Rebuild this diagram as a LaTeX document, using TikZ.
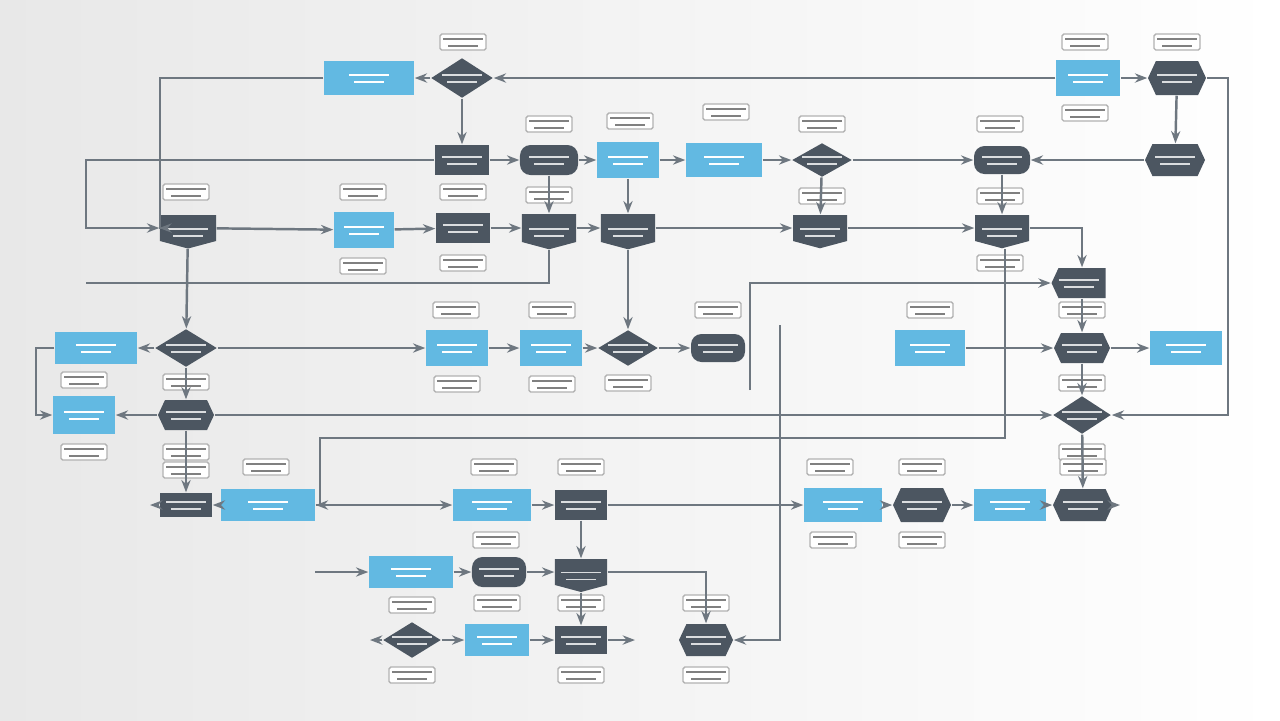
\documentclass[tikz,border=0pt]{standalone}
\usetikzlibrary{shapes.geometric,shapes.misc,shapes.symbols,arrows.meta}
\definecolor{boxblue}{HTML}{62B9E2}
\definecolor{boxdark}{HTML}{4C5661}
\definecolor{linegray}{HTML}{6E7780}
\tikzset{
  scrib/.style={path picture={
    \draw[#1,line width=0.5pt] ([xshift=-0.2cm,yshift=0.03cm]path picture bounding box.center) -- ++(0.4cm,0);
    \draw[#1,line width=0.5pt] ([xshift=-0.15cm,yshift=-0.04cm]path picture bounding box.center) -- ++(0.3cm,0);}},
  blu/.style 2 args={rectangle,fill=boxblue,minimum width=#1cm,minimum height=#2cm,inner sep=0pt,scrib=white},
  drk/.style 2 args={rectangle,fill=boxdark,minimum width=#1cm,minimum height=#2cm,inner sep=0pt,scrib=white!80!boxdark},
  rnd/.style 2 args={drk={#1}{#2},rounded corners=3pt},
  dia/.style 2 args={diamond,aspect=1.6,fill=boxdark,minimum width=#1cm,minimum height=#2cm,inner sep=0pt,scrib=white!80!boxdark},
  hex/.style 2 args={signal,signal to=west and east,signal pointer angle=130,fill=boxdark,minimum width=#1cm,minimum height=#2cm,inner sep=0pt,scrib=white!80!boxdark},
  pen/.style 2 args={signal,signal to=south,signal pointer angle=150,fill=boxdark,minimum width=#1cm,minimum height=#2cm,inner sep=0pt,scrib=white!80!boxdark},
  lbl/.style={rectangle,draw=gray!60,fill=white,minimum width=0.46cm,minimum height=0.16cm,inner sep=0pt,scrib=gray,rounded corners=0.5pt},
  link/.style={draw=linegray,line width=0.7pt,-{Stealth[length=3.5pt]}},
  line/.style={draw=linegray,line width=0.7pt},
}
\begin{document}
\begin{tikzpicture}[x=0.01cm,y=-0.01cm]
\shade[left color=gray!18,right color=white] (0,0) rectangle (1280,720);
\useasboundingbox (0,0) rectangle (1280,720);

% top row
\node[blu={0.9}{0.34}] (b1) at (369,78) {};
\node[dia={0.62}{0.4}] (d1) at (462,78) {};
\node[lbl] (l1) at (463,42) {};
\node[blu={0.64}{0.36}] (b2) at (1088,78) {};
\node[lbl] (l2) at (1085,42) {};
\node[lbl] (l3) at (1085,113) {};
\node[hex={0.58}{0.34}] (h1) at (1177,78) {};
\node[lbl] (l4) at (1177,42) {};

% second row
\node[drk={0.54}{0.3}] (r1) at (462,160) {};
\node[rnd={0.58}{0.3}] (t1) at (549,160) {};
\node[lbl] (l5) at (549,124) {};
\node[lbl] (l6) at (549,195) {};
\node[blu={0.62}{0.36}] (b3) at (628,160) {};
\node[lbl] (l7) at (630,121) {};
\node[blu={0.76}{0.34}] (b4) at (724,160) {};
\node[lbl] (l8) at (726,112) {};
\node[dia={0.6}{0.34}] (d2) at (822,160) {};
\node[lbl] (l9) at (822,124) {};
\node[lbl] (l10) at (822,196) {};
\node[rnd={0.56}{0.28}] (t2) at (1002,160) {};
\node[lbl] (l11) at (1000,124) {};
\node[lbl] (l12) at (1000,196) {};
\node[hex={0.6}{0.32}] (h2) at (1175,160) {};

% third row
\node[pen={0.56}{0.26}] (p1) at (188,228) {};
\node[lbl] (l13) at (186,192) {};
\node[blu={0.6}{0.36}] (b5) at (364,230) {};
\node[lbl] (l14) at (363,192) {};
\node[lbl] (l15) at (363,266) {};
\node[drk={0.54}{0.3}] (r2) at (463,228) {};
\node[lbl] (l16) at (463,192) {};
\node[lbl] (l17) at (463,263) {};
\node[pen={0.54}{0.28}] (p2) at (549,228) {};
\node[pen={0.54}{0.28}] (p3) at (628,228) {};
\node[pen={0.54}{0.26}] (p4) at (820,228) {};
\node[pen={0.54}{0.26}] (p5) at (1002,228) {};
\node[lbl] (l18) at (1000,263) {};
\node[hex={0.54}{0.3},signal to=west,signal from=nothing] (h3) at (1082,283) {};

% fourth row
\node[blu={0.82}{0.32}] (b6) at (96,348) {};
\node[lbl] (l19) at (84,380) {};
\node[dia={0.62}{0.38}] (d3) at (186,348) {};
\node[lbl] (l20) at (186,382) {};
\node[blu={0.62}{0.36}] (b7) at (457,348) {};
\node[lbl] (l21) at (456,310) {};
\node[lbl] (l22) at (457,384) {};
\node[blu={0.62}{0.36}] (b8) at (551,348) {};
\node[lbl] (l23) at (552,310) {};
\node[lbl] (l24) at (552,384) {};
\node[dia={0.6}{0.36}] (d4) at (628,348) {};
\node[lbl] (l25) at (628,383) {};
\node[rnd={0.54}{0.28}] (t3) at (718,348) {};
\node[lbl] (l26) at (718,310) {};
\node[blu={0.7}{0.36}] (b9) at (930,348) {};
\node[lbl] (l27) at (930,310) {};
\node[hex={0.56}{0.3}] (t4) at (1082,348) {};
\node[lbl] (l28) at (1082,310) {};
\node[lbl] (l29) at (1082,383) {};
\node[blu={0.72}{0.34}] (b10) at (1186,348) {};

% fifth row
\node[blu={0.62}{0.38}] (b11) at (84,415) {};
\node[lbl] (l30) at (84,452) {};
\node[hex={0.56}{0.3}] (h4) at (186,415) {};
\node[lbl] (l31) at (186,452) {};
\node[dia={0.58}{0.38}] (d5) at (1082,415) {};
\node[lbl] (l32) at (1082,452) {};

% sixth row
\node[drk={0.52}{0.24}] (r3) at (186,505) {};
\node[lbl] (l33) at (186,470) {};
\node[blu={0.94}{0.32}] (b12) at (268,505) {};
\node[lbl] (l34) at (266,467) {};
\node[blu={0.78}{0.32}] (b13) at (492,505) {};
\node[lbl] (l35) at (494,467) {};
\node[lbl] (l36) at (496,540) {};
\node[drk={0.52}{0.3}] (r4) at (581,505) {};
\node[lbl] (l37) at (581,467) {};
\node[blu={0.78}{0.34}] (b14) at (843,505) {};
\node[lbl] (l38) at (830,467) {};
\node[lbl] (l39) at (833,540) {};
\node[hex={0.58}{0.34}] (d6) at (922,505) {};
\node[lbl] (l40) at (922,467) {};
\node[lbl] (l41) at (922,540) {};
\node[blu={0.72}{0.32}] (b15) at (1010,505) {};
\node[hex={0.6}{0.32}] (h5) at (1083,505) {};
\node[lbl] (l42) at (1083,467) {};

% seventh row
\node[blu={0.84}{0.32}] (b16) at (411,572) {};
\node[rnd={0.54}{0.3}] (t5) at (499,572) {};
\node[lbl] (l43) at (497,603) {};
\node[pen={0.52}{0.26}] (p6) at (581,572) {};
\node[lbl] (l44) at (581,603) {};

% bottom row
\node[dia={0.58}{0.36}] (d7) at (412,640) {};
\node[lbl] (l45) at (412,605) {};
\node[lbl] (l46) at (412,675) {};
\node[blu={0.64}{0.32}] (b17) at (497,640) {};
\node[drk={0.52}{0.28}] (r5) at (581,640) {};
\node[lbl] (l47) at (581,675) {};
\node[hex={0.54}{0.32}] (d8) at (706,640) {};
\node[lbl] (l48) at (706,603) {};
\node[lbl] (l49) at (706,675) {};

% free ends
\coordinate (c1) at (86,283);
\coordinate (c2) at (750,390);
\coordinate (c3) at (780,325);
\coordinate (c4) at (150,505);
\coordinate (c5) at (315,572);
\coordinate (c6) at (370,640);
\coordinate (c7) at (635,640);
\coordinate (c8) at (1120,505);
\coordinate (c9) at (636,572);

% connectors
\draw[link] (b2) -- (d1);
\draw[link] (d1) -- (b1);
\draw[link] (d1) -- (r1);
\draw[link] (b1.west) -| (160,228) -- (p1);
\draw[link] (r1.west) -| (86,228) -- (p1);
\draw[link] (r1) -- (t1);
\draw[link] (t1) -- (b3);
\draw[link] (b3) -- (b4);
\draw[link] (b4) -- (d2);
\draw[link] (d2) -- (t2);
\draw[link] (h2) -- (t2);
\draw[link] (b2) -- (h1);
\draw[link] (h1) -- (h2);
\draw[link] (h1.east) -| (1228,415) -- (d5);
\draw[link] (t1) -- (p2);
\draw[link] (b3) -- (p3);
\draw[link] (d2) -- (p4);
\draw[link] (t2) -- (p5);
\draw[link] (p1) -- (b5);
\draw[link] (b5) -- (r2);
\draw[link] (r2) -- (p2);
\draw[link] (p2) -- (p3);
\draw[link] (p3) -- (p4);
\draw[link] (p4) -- (p5);
\draw[link] (p5.east) -| (h3);
\draw[line] (c1) -| (p2);
\draw[link] (p3) -- (d4);
\draw[link] (p1) -- (d3);
\draw[link] (d3) -- (b6);
\draw[link] (d3) -- (b7);
\draw[link] (b7) -- (b8);
\draw[link] (b8) -- (d4);
\draw[link] (d4) -- (t3);
\draw[link] (c2) |- (h3);
\draw[link] (b9) -- (t4);
\draw[link] (t4) -- (b10);
\draw[link] (h3) -- (t4);
\draw[link] (t4) -- (d5);
\draw[link] (d5) -- (h5);
\draw[link] (b6.west) -| (36,415) -- (b11);
\draw[link] (h4) -- (b11);
\draw[link] (h4) -- (d5);
\draw[link] (d3) -- (h4);
\draw[link] (h4) -- (r3);
\draw[link] (r3) -- (c4);
\draw[link] (b12) -- (r3);
\draw[link] (p5.south) ++(3,0) |- (320,438) -- (320,505) -- (b12);
\draw[link] (b12) -- (b13);
\draw[link] (b13) -- (r4);
\draw[link] (r4) -- (b14);
\draw[link] (b14) -- (d6);
\draw[link] (d6) -- (b15);
\draw[link] (b15) -- (h5);
\draw[link] (h5) -- (c8);
\draw[link] (c3) |- (d8);
\draw[link] (r4) -- (p6);
\draw[link] (p6) -- (r5);
\draw[link] (c5) -- (b16);
\draw[link] (b16) -- (t5);
\draw[link] (t5) -- (p6);
\draw[link] (p6) -- (c9) -| (d8);
\draw[link] (d7) -- (c6);
\draw[link] (d7) -- (b17);
\draw[link] (b17) -- (r5);
\draw[link] (r5) -- (c7);
\end{tikzpicture}
\end{document}
